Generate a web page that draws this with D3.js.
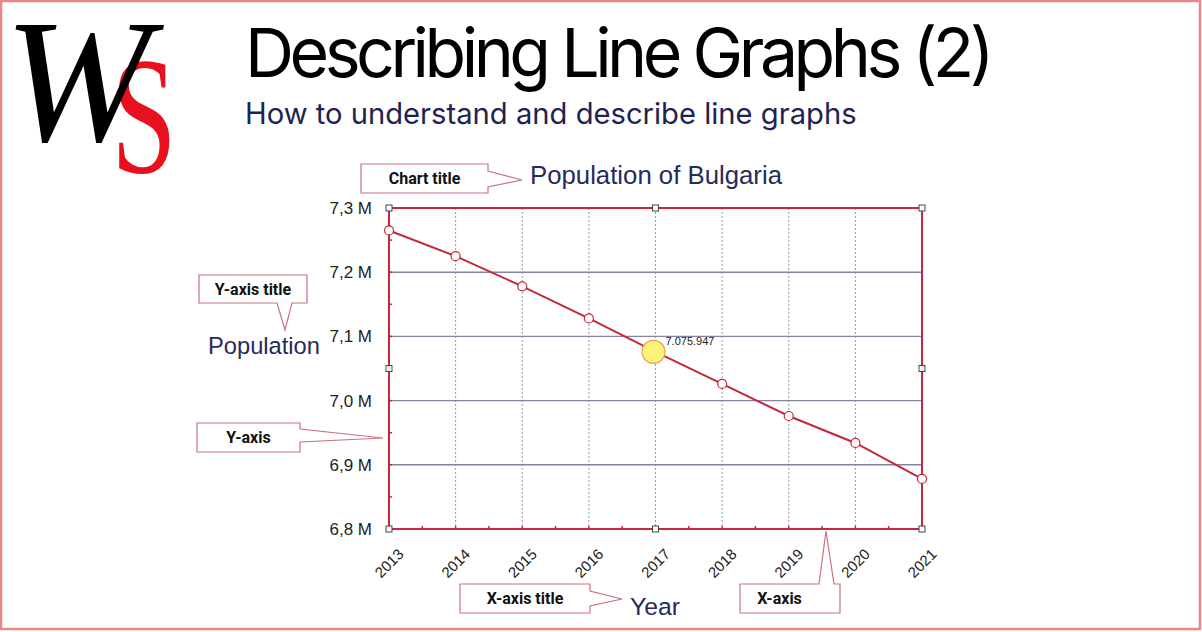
<!DOCTYPE html>
<html>
<head>
<meta charset="utf-8">
<script src="https://d3js.org/d3.v7.min.js"></script>
<style>
  body { margin: 0; background: #fff; }
  svg { display: block; }
  .callout text { font-family: "Liberation Sans Narrow", "Roboto", sans-serif; font-weight: bold; font-size: 16px; fill: #111; }
</style>
</head>
<body>
<svg id="canvas" width="1202" height="632"></svg>
<script>
  const years = [2013, 2014, 2015, 2016, 2017, 2018, 2019, 2020, 2021];
  const population = [7265, 7225, 7178, 7128, 7075.947, 7026, 6976, 6934, 6878]; // thousands
  const yTicks = [6.8, 6.9, 7.0, 7.1, 7.2, 7.3];
  const highlightYear = 2017;
  const highlightLabel = "7.075.947";

  const svg = d3.select("svg");

  // page frame
  svg.append("rect").attr("x", 1).attr("y", 1).attr("width", 1199).attr("height", 628)
    .attr("fill", "none").attr("stroke", "#f08585").attr("stroke-width", 2.5);

  // logo
  svg.append("text").attr("transform", "translate(144,172) scale(0.7,1)").attr("text-anchor", "middle")
    .attr("font-family", "Liberation Serif, serif").attr("font-size", 168)
    .attr("fill", "#e8101e").text("S");
  svg.append("text").attr("x", 4).attr("y", 140)
    .attr("font-family", "Liberation Serif, serif").attr("font-style", "italic").attr("font-size", 176)
    .attr("fill", "#000").text("W");

  // header text, squeezed to the widths seen in the picture
  function fitText(sel, width) {
    const w = sel.node().getComputedTextLength();
    const n = sel.text().length;
    const ls = parseFloat(sel.attr("letter-spacing") || 0);
    sel.attr("letter-spacing", ls + (width - w) / n);
  }
  function fitSize(sel, width) {
    const w = sel.node().getComputedTextLength();
    sel.attr("font-size", parseFloat(sel.attr("font-size")) * width / w);
  }
  const title = svg.append("text").attr("x", 245).attr("y", 77)
    .attr("font-family", "Inter, sans-serif").attr("font-size", 68).attr("fill", "#000")
    .text("Describing Line Graphs (2)");
  fitText(title, 745);
  const sub = svg.append("text").attr("x", 245).attr("y", 124)
    .attr("font-family", "Inter, sans-serif").attr("font-size", 25).attr("fill", "#1e2352")
    .text("How to understand and describe line graphs");
  fitSize(sub, 612);

  // chart
  const x = d3.scaleLinear().domain([2013, 2021]).range([389, 922]);
  const y = d3.scaleLinear().domain([6.8, 7.3]).range([529, 208]);
  const red = "#c4283c";

  const g = svg.append("g");

  // vertical dotted grid
  g.selectAll(".vgrid").data(years.slice(1, -1)).join("line")
    .attr("x1", d => x(d)).attr("x2", d => x(d)).attr("y1", y(7.3)).attr("y2", y(6.8))
    .attr("stroke", "#999").attr("stroke-width", 1).attr("stroke-dasharray", "2,2");

  // horizontal grid
  g.selectAll(".hgrid").data(yTicks.slice(1, -1)).join("line")
    .attr("x1", x(2013)).attr("x2", x(2021)).attr("y1", d => y(d)).attr("y2", d => y(d))
    .attr("stroke", "#84849e").attr("stroke-width", 1.4);

  // axes with d3
  const yAxis = d3.axisLeft(y).tickValues(yTicks).tickSize(0).tickPadding(17)
    .tickFormat(d => d3.format(".1f")(d).replace(".", ",") + " M");
  const ya = g.append("g").attr("transform", `translate(${x(2013)},0)`).call(yAxis);
  ya.select(".domain").remove();
  ya.selectAll("text").attr("font-family", "Liberation Sans, Arial, sans-serif").attr("font-size", 17).attr("fill", "#222");

  const xAxis = d3.axisBottom(x).tickValues(years).tickSize(0).tickFormat(d3.format("d"));
  const xa = g.append("g").attr("transform", `translate(0,${y(6.8)})`).call(xAxis);
  xa.select(".domain").remove();
  xa.selectAll("text").attr("font-family", "Liberation Sans, Arial, sans-serif").attr("font-size", 15).attr("fill", "#222")
    .attr("text-anchor", "end").attr("dy", 0)
    .attr("transform", "translate(13,24) rotate(-45)");

  // minor ticks
  const xMinor = d3.range(2013, 2021.01, 0.5);
  g.selectAll(".xt").data(xMinor).join("line")
    .attr("x1", d => x(d)).attr("x2", d => x(d)).attr("y1", y(6.8)).attr("y2", y(6.8) - 3)
    .attr("stroke", red).attr("stroke-width", 1.5);
  const yMinor = d3.range(6.8, 7.301, 0.05);
  g.selectAll(".yt").data(yMinor).join("line")
    .attr("x1", x(2013)).attr("x2", x(2013) + 3).attr("y1", d => y(d)).attr("y2", d => y(d))
    .attr("stroke", red).attr("stroke-width", 1.5);

  // frame
  g.append("rect").attr("x", x(2013)).attr("y", y(7.3))
    .attr("width", x(2021) - x(2013)).attr("height", y(6.8) - y(7.3))
    .attr("fill", "none").attr("stroke", red).attr("stroke-width", 2);

  // handles
  const hx = [2013, 2017, 2021], hy = [7.3, 7.05, 6.8];
  const handles = [];
  hx.forEach(a => hy.forEach(b => { if (!(a === 2017 && b === 7.05)) handles.push([a, b]); }));
  g.selectAll(".handle").data(handles).join("rect")
    .attr("x", d => x(d[0]) - 3).attr("y", d => y(d[1]) - 3).attr("width", 6).attr("height", 6)
    .attr("fill", "#fff").attr("stroke", "#444").attr("stroke-width", 1);

  // line
  const data = years.map((yr, i) => ({ year: yr, value: population[i] / 1000 }));
  g.append("path").datum(data)
    .attr("d", d3.line().x(d => x(d.year)).y(d => y(d.value)))
    .attr("fill", "none").attr("stroke", red).attr("stroke-width", 2);
  g.selectAll(".pt").data(data.filter(d => d.year !== highlightYear)).join("circle")
    .attr("cx", d => x(d.year)).attr("cy", d => y(d.value)).attr("r", 4.5)
    .attr("fill", "#fff").attr("stroke", red).attr("stroke-width", 1.2);
  const hl = data.find(d => d.year === highlightYear);
  g.append("circle").attr("cx", x(hl.year) - 2).attr("cy", y(hl.value)).attr("r", 11.5)
    .attr("fill", "#fdf27a").attr("stroke", "#e6a052").attr("stroke-width", 1.2);
  g.append("text").attr("x", x(hl.year) + 10).attr("y", y(hl.value) - 7)
    .attr("font-family", "Liberation Sans, Arial, sans-serif").attr("font-size", 11).attr("fill", "#222")
    .text(highlightLabel);

  // labels
  const navy = "#262b5c";
  fitSize(svg.append("text").attr("x", 530).attr("y", 184).attr("font-family", "Liberation Sans, Arial, sans-serif")
    .attr("font-size", 22).attr("fill", navy).text("Population of Bulgaria"), 252);
  fitSize(svg.append("text").attr("x", 208).attr("y", 354).attr("font-family", "Liberation Sans, Arial, sans-serif")
    .attr("font-size", 21).attr("fill", navy).text("Population"), 112);
  fitSize(svg.append("text").attr("x", 630).attr("y", 615).attr("font-family", "Liberation Sans, Arial, sans-serif")
    .attr("font-size", 21).attr("fill", navy).text("Year"), 50);

  // callouts
  const callouts = [
    { label: "Chart title", pts: [[361,164],[488,164],[488,171],[522,180],[488,187],[488,193],[361,193]] },
    { label: "Y-axis title", pts: [[199,275],[307,275],[307,303],[292,303],[285,330],[277,303],[199,303]] },
    { label: "Y-axis", pts: [[197,423],[300,423],[300,429],[383,438],[300,442],[300,452],[197,452]] },
    { label: "X-axis title", pts: [[460,584],[590,584],[590,591],[622,599],[590,606],[590,613],[460,613]] },
    { label: "X-axis", pts: [[740,584],[819,584],[826,531],[834,584],[840,584],[840,613],[740,613]] }
  ];
  const co = svg.selectAll(".callout").data(callouts).join("g").attr("class", "callout");
  co.append("path").attr("d", d => d3.line()(d.pts) + "Z")
    .attr("fill", "#fff").attr("stroke", "#c9727c").attr("stroke-width", 1.2);
  co.append("text")
    .attr("x", d => (d.pts[0][0] + d.pts[1][0]) / 2)
    .attr("y", d => d.pts[0][1] + 20)
    .attr("text-anchor", "middle")
    .text(d => d.label);
</script>
</body>
</html>
